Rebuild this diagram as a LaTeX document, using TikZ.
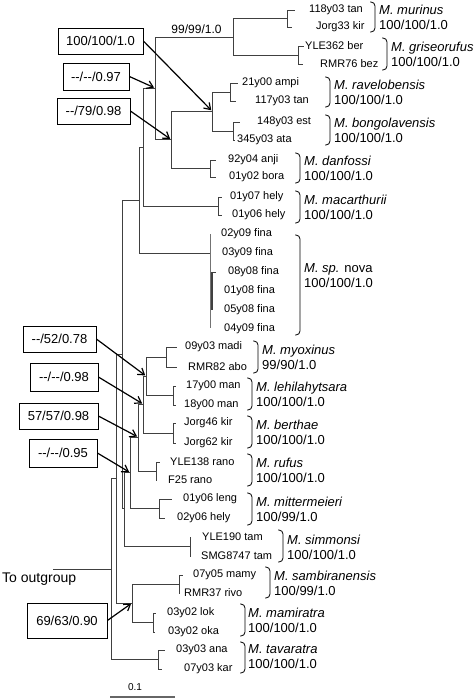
\documentclass[tikz,border=0pt]{standalone}
\usepackage{fontspec}
\setmainfont{Liberation Sans}
\usetikzlibrary{arrows.meta}

\begin{document}
\begin{tikzpicture}[x=1pt, y=-1pt,
      branch/.style = {draw=black!75, line width=0.8pt},
      leaf/.style = {anchor=west, inner sep=0pt, font=\fontsize{11}{13}\selectfont},
      clade/.style = {anchor=west, inner sep=0pt, align=left, font=\fontsize{13}{15}\selectfont},
      brk/.style = {draw, line width=0.8pt, rounded corners=4pt},
      supbox/.style = {draw, line width=0.8pt, inner sep=0pt, minimum height=26pt,
        font=\fontsize{13}{15}\selectfont},
      suparrow/.style = {-{Straight Barb[length=6pt,width=8pt]}, line width=1.2pt, shorten >=1pt}]
  \useasboundingbox (0,0) rectangle (474,699);

  % tree nodes
  \coordinate (R) at (111,569);
  \coordinate (Og) at (53,569);
  \coordinate (X) at (116,478);
  \coordinate (N) at (122,354);
  \coordinate (B) at (139,200);
  \coordinate (C) at (143,147);
  \coordinate (D) at (155,88);
  \coordinate (G) at (233,37);
  \coordinate (Mu) at (287,18.5);
  \coordinate (Gr) at (298,55);
  \coordinate (E) at (171,139.5);
  \coordinate (F) at (212,111);
  \coordinate (Rv) at (230,92);
  \coordinate (Bg) at (233,131);
  \coordinate (Df) at (210,168.5);
  \coordinate (Mc) at (218,206);
  \coordinate (Sn) at (210,253);
  \coordinate (Ms) at (124,508.5);
  \coordinate (Mm) at (130,472.5);
  \coordinate (Mr) at (138,437);
  \coordinate (Mb) at (143,404);
  \coordinate (Mx) at (146,376);
  \coordinate (My) at (166,357);
  \coordinate (Lh) at (173,395.5);
  \coordinate (Be) at (173,433);
  \coordinate (Ru) at (156,471);
  \coordinate (Mi) at (159,508.5);
  \coordinate (Si) at (190,546.5);
  \coordinate (S) at (132,603);
  \coordinate (Sa) at (179,584);
  \coordinate (Ma) at (153,622.5);
  \coordinate (Ta) at (158,659.5);

  \draw[branch] (Og) -- (R);
  \foreach \p/\c in {R/X, R/Ta, X/N, X/S, N/B, N/Ms, B/C, B/Sn, C/D, C/Mc, D/G, D/E,
      G/Mu, G/Gr, E/F, E/Df, F/Rv, F/Bg, Ms/Mm, Ms/Si, Mm/Mr, Mm/Mi, Mr/Mb, Mr/Ru,
      Mb/Mx, Mb/Be, Mx/My, Mx/Lh, S/Sa, S/Ma}
    \draw[branch] (\p) |- (\c);

  % tips and their labels
  \foreach \n/\e/\y/\lx/\lab in {Mu/295/10/309/118y03 tan, Mu/292/27/316/Jorg33 kir,
      Gr/304/46/305/YLE362 ber, Gr/303/64/320/RMR76 bez,
      Rv/238/83/242/21y00 ampi, Rv/236/101/255/117y03 tan,
      Bg/240/122/257/148y03 est, Bg/235/140/237/345y03 ata,
      Df/216/160/228/92y04 anji, Df/216/177/229/01y02 bora,
      Mc/222/197/230/01y07 hely, Mc/222/215/232/01y06 hely,
      My/177/347/185/09y03 madi, My/177/367/188/RMR82 abo,
      Lh/176/386/186/17y00 man, Lh/176/405/184/18y00 man,
      Be/176/423/184/Jorg46 kir, Be/176/443/184/Jorg62 kir,
      Ru/160/462/170/YLE138 rano, Ru/157/480/168/F25 rano,
      Mi/172/499/183/01y06 leng, Mi/165/518/177/02y06 hely,
      Si/191/537/202/YLE190 tam, Si/191/556/201/SMG8747 tam,
      Sa/183/575/193/07y05 mamy, Sa/180/593/184/RMR37 rivo,
      Ma/156/613/167/03y02 lok, Ma/155/632/168/03y02 oka,
      Ta/165/650/176/03y03 ana, Ta/162/669/184/07y03 kar} {
    \coordinate (t-\y) at (\e,\y);
    \draw[branch] (\n) |- (t-\y);
    \node[leaf] (l-\y) at (\lx,\y) {\lab};
  }

  % sp. nova
  \coordinate (snTop) at (210,234);
  \coordinate (snBot) at (210,328);
  \coordinate (snA) at (212,272);
  \coordinate (snB) at (212,310);
  \coordinate (snC) at (216,272);
  \draw[branch, draw=black!55] (snTop) -- (snBot);
  \draw[branch, line width=1.6pt] (snA) -- (snB);
  \draw[branch] (snA) -- (snC);
  \foreach \lx/\y/\lab in {221/234/02y09 fina, 222/253/03y09 fina, 228/272/08y08 fina,
      224/291/01y08 fina, 224/310/05y08 fina, 224/329/04y09 fina}
    \node[leaf] (l-\y) at (\lx,\y) {\lab};

  % clade brackets
  \foreach \bx/\bt/\bb in {375/2/32, 387/38/70, 330/77/107, 330/115/145, 300/153/183,
      300/191/223, 300/235/335, 258/341/373, 252/378/410, 252/416/448, 252/454/486,
      252/493/525, 283/530/562, 270/567/598, 245/604/636, 245/642/673}
    \draw[brk] (\bx-5,\bt) -- (\bx,\bt) -- (\bx,\bb) -- (\bx-5,\bb);

  \node[clade] (murinus) at (379,17) {\textit{M. murinus}\\100/100/1.0};
  \node[clade] (griseorufus) at (391,54) {\textit{M. griseorufus}\\100/100/1.0};
  \node[clade] (ravelobensis) at (334,92) {\textit{M. ravelobensis}\\100/100/1.0};
  \node[clade] (bongolavensis) at (334,130) {\textit{M. bongolavensis}\\100/100/1.0};
  \node[clade] (danfossi) at (304,168) {\textit{M. danfossi}\\100/100/1.0};
  \node[clade] (macarthurii) at (304,207) {\textit{M. macarthurii}\\100/100/1.0};
  \node[clade] (spnova) at (304,276) {\textit{M. sp.} nova\\100/100/1.0};
  \node[clade] (myoxinus) at (262,357) {\textit{M. myoxinus}\\99/90/1.0};
  \node[clade] (lehilahytsara) at (256,394) {\textit{M. lehilahytsara}\\100/100/1.0};
  \node[clade] (berthae) at (256,432) {\textit{M. berthae}\\100/100/1.0};
  \node[clade] (rufus) at (256,470) {\textit{M. rufus}\\100/100/1.0};
  \node[clade] (mittermeieri) at (256,509) {\textit{M. mittermeieri}\\100/99/1.0};
  \node[clade] (simmonsi) at (287,547) {\textit{M. simmonsi}\\100/100/1.0};
  \node[clade] (sambiranensis) at (274,583) {\textit{M. sambiranensis}\\100/99/1.0};
  \node[clade] (mamiratra) at (248,620) {\textit{M. mamiratra}\\100/100/1.0};
  \node[clade] (tavaratra) at (248,657) {\textit{M. tavaratra}\\100/100/1.0};

  % support boxes
  \node[font=\fontsize{12}{14}\selectfont] (s99) at (196.5,29) {99/99/1.0};
  \node[supbox, minimum width=85pt] (b100) at (100.5,41) {100/100/1.0};
  \node[supbox, minimum width=66pt, minimum height=27pt] (b097) at (96,76.5) {-{}-/-{}-/0.97};
  \node[supbox, minimum width=73pt] (b79) at (93.5,111) {-{}-/79/0.98};
  \node[supbox, minimum width=73pt] (b52) at (59.5,339) {-{}-/52/0.78};
  \node[supbox, minimum width=68pt, minimum height=28pt] (b098) at (64,377) {-{}-/-{}-/0.98};
  \node[supbox, minimum width=79pt] (b57) at (58.5,416) {57/57/0.98};
  \node[supbox, minimum width=68pt, minimum height=28pt] (b095) at (63,453) {-{}-/-{}-/0.95};
  \node[supbox, minimum width=80pt, minimum height=35pt] (b69) at (67,620.5) {69/63/0.90};

  \draw[suparrow] (b100.east) -- (F);
  \draw[suparrow] (b097.east) -- (D);
  \draw[suparrow] (b79.east) -- (E);
  \draw[suparrow] (b52.east) -- (Mx);
  \draw[suparrow] (b098.east) -- (Mb);
  \draw[suparrow] (b57.east) -- (Mr);
  \draw[suparrow] (b095.east) -- (Mm);
  \draw[suparrow] (b69.east) -- (S);

  \node[anchor=west, inner sep=0pt, font=\fontsize{14}{16}\selectfont] (outgroup) at (2,579) {To outgroup};

  % scale bar
  \coordinate (s0) at (110,697);
  \coordinate (s1) at (175,697);
  \draw[line width=1.2pt, black!60] (s0) -- (s1);
  \node[font=\fontsize{10}{12}\selectfont] (scale) at (135,687) {0.1};
\end{tikzpicture}
\end{document}
